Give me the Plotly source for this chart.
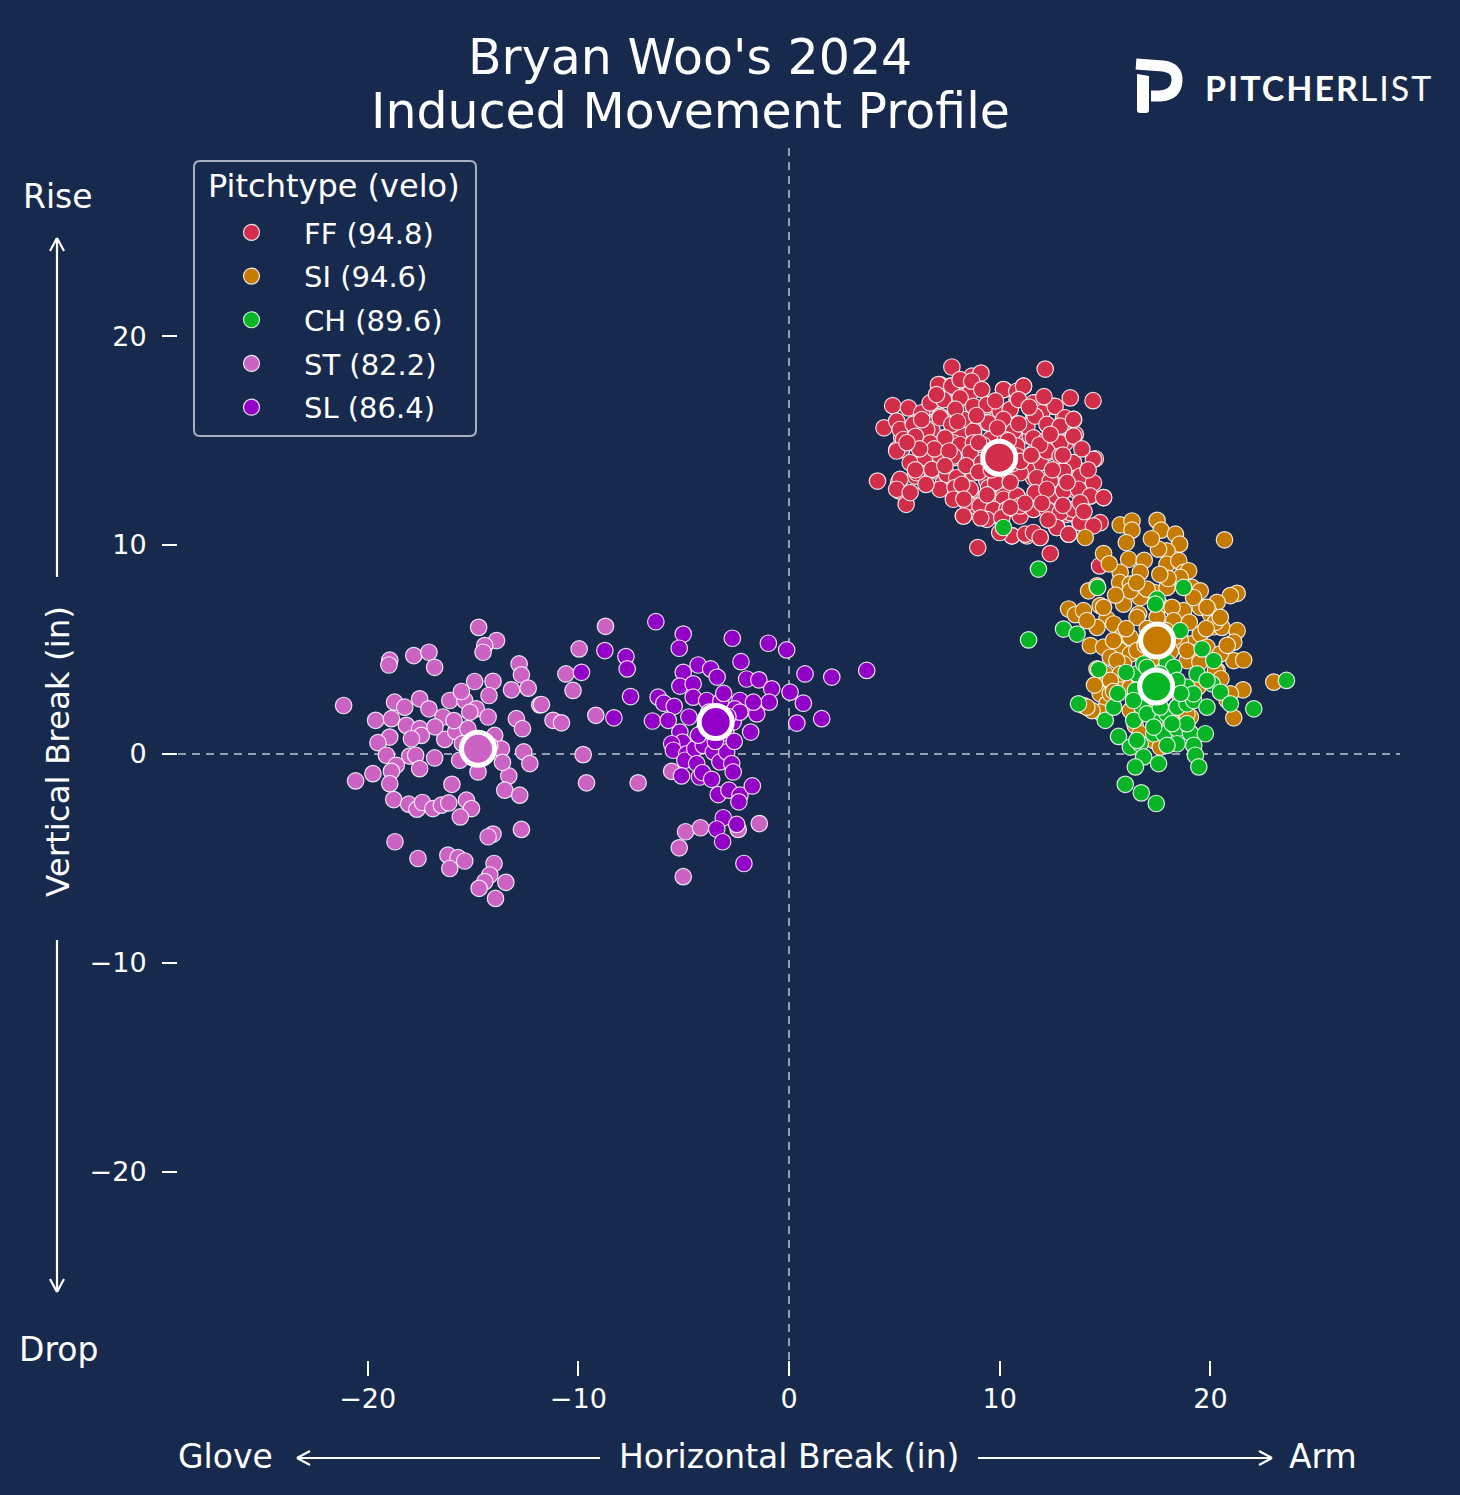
import plotly.graph_objects as go

BG = "#172A4E"
FONT = "DejaVu Sans"

pitch_types = ["FF", "SI", "CH", "ST", "SL"]
velos = [94.8, 94.6, 89.6, 82.2, 86.4]
colors = ["#D22D49", "#C57A02", "#07B526", "#CC63C4", "#9300C8"]

ff_hb = [7.73, 12.16, 8.68, 9.11, 4.92, 4.51, 14.43, 13.35, 12.56, 14.54, 4.20, 5.20, 5.24, 5.56, 14.77, 8.96, 12.40, 14.74,
         8.28, 10.58, 11.29, 11.92, 13.27, 10.02, 10.97, 5.35, 5.35, 5.12, 6.38, 6.70, 7.17, 7.65, 8.12, 10.18, 10.82, 11.13,
         11.69, 11.61, 13.03, 13.51, 13.59, 13.11, 13.51, 13.82, 14.30, 14.93, 13.74, 13.19, 13.82, 12.72,
         9.39, 9.39, 8.76, 8.12, 7.33, 6.78, 6.46, 5.91, 5.99, 7.81, 7.89, 8.60, 8.84, 9.71, 10.82, 11.69, 11.61, 12.24, 12.87,
         13.35, 12.72, 11.61, 10.82, 10.34, 8.60, 7.17, 7.81, 8.60, 9.71, 10.66, 11.45, 11.92, 11.29, 9.39, 7.81, 7.02, 7.33,
         10.18, 12.56, 13.51,
         7.09, 7.72, 8.12, 8.67, 9.15, 10.18, 10.81, 11.13,
         5.67, 6.30, 6.70, 7.33, 8.12, 8.75, 9.39, 10.02, 10.50, 10.89, 11.60, 12.00, 12.63, 13.11,
         5.11, 5.27, 5.90, 6.54, 7.17, 7.72, 8.28, 8.75, 9.47, 10.18, 10.66, 11.29, 11.68, 12.24, 12.87, 13.50,
         5.43, 5.98, 6.70, 7.41, 8.12, 8.75, 9.55, 10.26, 10.81, 11.60, 12.16, 12.87, 13.50,
         5.11, 5.75, 6.46, 7.17, 7.80, 8.60, 9.15, 10.81, 11.60, 12.24, 12.87, 13.50, 14.45,
         5.27, 6.06, 6.78, 7.49, 7.96, 8.75, 9.39, 10.97, 11.76, 12.40, 13.03, 13.82, 14.45,
         5.11, 5.75, 7.17, 7.88, 8.60, 9.47, 10.18, 10.81, 11.68, 12.24, 13.03, 13.74, 14.30, 14.93,
         7.80, 8.44, 9.07, 9.70, 10.34, 10.97, 11.60, 12.24, 12.87, 13.50, 13.82,
         8.28, 9.39, 10.10, 10.58, 11.21, 11.60, 11.92, 12.71, 13.27, 13.82, 14.45,
         9.9, 10.3, 9.5, 10.6, 9.2, 10.0,
         6.0, 6.9, 7.6, 8.4, 9.0, 9.8, 10.5, 11.0, 11.9, 12.5, 13.2, 12.0, 11.2, 10.5, 9.4, 8.2, 7.4, 6.5, 6.3, 7.9,
         8.9, 9.9, 10.9, 12.4, 13.0, 13.9, 14.2, 6.2, 5.6, 8.0, 9.0, 11.4, 12.1, 9.8, 8.3, 9.1, 10.0, 12.3, 13.0, 14.0,
         7.0, 6.0, 10.4, 11.5, 9.6]
ff_ivb = [18.52, 18.42, 18.08, 18.23, 16.67, 15.61, 16.91, 17.04, 16.64, 14.13, 13.06, 12.98, 12.59, 11.95, 11.07, 9.88, 9.59, 9.00,
          11.39, 10.44, 10.44, 10.36, 10.52, 11.31, 11.39, 15.13, 14.57, 14.57, 16.32, 16.64, 17.68, 17.60, 17.12, 17.44, 16.96, 17.60,
          16.80, 16.24, 16.09, 16.01, 15.29, 14.89, 13.94, 12.83, 12.35, 12.27, 11.71, 11.47, 11.07, 10.84,
          16.64, 15.85, 15.37, 15.37, 15.13, 15.53, 14.18, 13.86, 13.30, 14.18, 13.14, 12.51, 11.87, 11.87, 12.35, 12.51, 13.22, 14.42, 12.59,
          11.55, 11.55, 11.71, 15.37, 16.40, 17.28, 16.16, 14.89, 14.73, 15.21, 14.57, 15.21, 13.94, 13.62, 13.14, 12.35, 13.54, 12.98,
          12.35, 12.35, 12.67,
          17.68, 17.60, 17.92, 17.84, 17.44, 17.44, 17.36, 17.60,
          16.56, 16.33, 16.80, 16.96, 17.04, 16.64, 16.72, 16.41, 16.49, 16.96, 16.80, 16.33, 16.64, 16.09,
          15.93, 15.53, 15.77, 15.53, 16.09, 15.77, 16.01, 15.45, 15.85, 16.01, 15.45, 15.69, 16.17, 15.77, 15.69, 16.01,
          15.05, 14.97, 14.89, 15.13, 14.81, 14.89, 15.05, 15.05, 14.74, 15.13, 14.97, 14.89, 15.21,
          14.50, 13.94, 14.18, 14.26, 14.26, 14.42, 13.94, 14.26, 14.42, 14.50, 14.26, 13.94, 14.10,
          13.14, 13.46, 13.62, 13.38, 13.22, 13.46, 13.06, 13.46, 13.22, 13.06, 13.54, 13.30, 12.98,
          12.67, 12.51, 12.67, 12.75, 12.67, 12.75, 12.19, 12.35, 12.51, 12.67, 12.59, 12.67, 12.35, 12.27,
          12.19, 12.03, 11.87, 11.71, 11.71, 11.87, 11.71, 11.71, 11.55, 11.71, 12.03,
          11.39, 11.23, 11.31, 10.44, 10.52, 10.60, 10.36, 10.84, 10.52, 11.07, 10.92,
          14.5, 13.8, 14.0, 13.9, 14.8, 13.4,
          15.2, 14.6, 14.5, 13.8, 13.5, 13.0, 13.0, 14.0, 14.8, 13.6, 13.0, 12.0, 12.0, 11.8, 12.4, 12.9, 13.8, 12.9, 16.0, 16.5,
          16.2, 15.6, 15.8, 15.3, 14.3, 14.6, 13.6, 14.6, 14.9, 15.9, 14.9, 16.6, 17.1, 16.9, 12.2, 11.3, 10.6, 11.2, 11.9, 11.6,
          17.2, 13.6, 15.0, 14.3, 13.6]

si_hb = [20.67, 14.06, 15.72, 16.28, 16.28, 17.47, 17.66, 18.34, 18.54, 17.94, 17.54, 14.93, 16.01, 16.12, 16.86, 16.67, 15.72,
         17.94, 18.50, 18.73, 18.97, 19.13, 19.52, 21.27, 20.95, 20.32, 14.22, 14.62, 15.69, 16.20, 17.31, 13.27, 13.59, 13.98,
         14.77, 15.09, 15.88, 16.60, 17.62, 18.26, 18.73, 19.52, 20.00, 20.16, 20.55, 21.27, 21.11, 21.11, 21.58, 21.55, 21.11,
         20.79, 20.32, 20.13, 23.01, 14.62, 14.30, 14.93, 14.62, 15.01, 15.09, 14.77, 15.09, 14.77, 14.38, 13.98, 15.41, 15.88,
         15.72, 16.20, 15.88, 15.72, 15.25, 16.67, 18.18, 19.05, 19.05, 20.24, 18.90, 19.52, 20.24, 16.52, 17.47, 18.26, 16.20,
         16.43, 16.67, 19.05, 18.57, 18.10, 17.31, 17.62,
         16.20, 16.99, 17.94, 18.57, 19.20, 19.84, 20.47, 14.93, 14.14, 15.40, 15.56, 16.20, 16.51, 18.57, 18.89, 19.84, 20.47,
         15.72, 15.25, 15.25, 14.14, 16.20, 17.62, 18.41, 18.89, 18.57, 20.95,
         17.0, 17.9, 16.9, 18.1, 17.3, 16.5,
         15.2, 17.2, 18.0, 15.5, 17.6, 19.0, 19.8, 20.8, 16.0, 17.0, 18.3, 19.5, 15.4, 16.6, 18.0, 19.4, 20.5, 14.5, 16.9, 17.7]
si_ivb = [10.25, 10.36, 10.96, 11.15, 10.71, 11.18, 10.71, 10.52, 10.04, 9.72, 9.80, 9.59, 10.12, 9.32, 9.27, 8.69, 8.69,
          9.08, 9.25, 8.69, 8.77, 7.97, 7.81, 7.69, 7.58, 7.26, 7.81, 8.05, 8.21, 8.13, 7.73, 6.94, 6.67, 6.86,
          7.10, 6.46, 7.17, 6.70, 7.10, 6.94, 6.86, 7.02, 6.70, 6.09, 6.06, 5.90, 5.35, 4.47, 4.50, 3.07, 1.73,
          2.59, 3.99, 4.55, 3.44, 6.06, 5.19, 5.11, 4.07, 3.83, 3.44, 2.88, 2.40, 2.00, 2.08, 2.32, 6.22, 5.74,
          4.95, 4.79, 4.31, 3.52, 4.63, 7.49, 7.02, 5.27, 4.87, 3.99, 4.47, 5.74, 6.30, 6.54, 6.54, 6.38, 2.08,
          1.37, 0.97, 1.77, 2.08, 1.85, 0.65, 0.33,
          7.81, 7.89, 7.97, 8.45, 7.49, 7.02, 6.54, 7.02, 6.38, 5.43, 4.47, 5.58, 4.95, 5.43, 4.95, 5.11, 4.79,
          3.83, 3.52, 2.88, 2.24, 3.20, 2.88, 2.24, 1.92, 2.72, 2.88,
          6.0, 5.9, 5.2, 4.9, 4.6, 8.2,
          9.1, 10.3, 8.4, 7.6, 8.6, 6.3, 6.0, 5.2, 6.0, 5.5, 5.6, 4.4, 3.0, 3.7, 3.5, 3.2, 3.6, 3.3, 2.3, 1.5]

ch_hb = [11.84, 11.37, 14.65, 13.03, 13.67, 18.73, 17.47, 17.39, 18.57, 19.61, 20.16, 14.70, 16.52, 16.84, 17.94, 18.26, 19.37,
         20.08, 20.48, 20.95, 22.06, 23.61, 13.74, 15.01, 15.41, 16.44, 16.76, 16.36, 17.47, 17.94, 18.42, 18.89, 19.21, 19.84,
         18.89, 18.42, 15.64, 16.20, 16.67, 17.31, 17.79, 18.42, 19.05, 19.76, 18.42, 19.21, 17.94, 16.83, 17.54, 16.44, 19.29,
         19.45, 15.96, 16.72, 17.43, 10.18, 16.99, 17.62, 16.35, 16.99, 17.62, 19.20, 19.84, 18.89, 16.51, 17.31, 18.18,
         16.0, 15.6, 17.9, 18.6]
ch_ivb = [8.85, 5.46, 7.97, 5.98, 5.74, 7.97, 7.42, 7.17, 5.90, 5.03, 4.47, 4.04, 3.83, 4.31, 4.39, 4.15, 3.83,
          3.36, 2.96, 2.40, 2.16, 3.52, 2.40, 1.61, 2.24, 3.04, 2.24, 1.61, 1.77, 1.92, 2.24, 2.40, 2.56, 2.24,
          3.20, 3.52, 0.84, 0.33, 0.49, 0.97, 0.97, 1.21, 1.00, 0.97, 0.49, 0.41, 0.41, -0.14, -0.46, -0.62, -0.06,
          -0.62, -1.45, -1.86, -2.37, 10.84, 4.15, 3.83, 2.56, 1.92, 2.24, 2.88, 3.52, 1.45, 0.65, 1.29, 1.45,
          3.9, 2.9, 3.1, 2.9]

st_hb = [-14.73, -13.88, -14.44, -14.52, -18.95, -18.99, -17.81, -17.09, -16.82, -12.81, -12.70, -12.38, -13.17, -11.83, -21.14,
         -14.92, -14.05, -14.24, -16.10, -15.39, -15.55, -14.84, -15.15, -17.53, -18.72, -18.24, -17.09, -16.42, -14.28, -19.62,
         -18.87, -18.16, -17.53, -17.45, -17.92, -18.95, -19.51, -16.34, -15.82, -15.24, -13.97, -13.65, -12.94, -12.65, -12.59,
         -12.30, -19.11, -18.00, -17.72, -16.82, -17.53, -15.63, -14.76, -18.64, -18.87, -19.75, -20.57, -18.95, -16.00, -13.30,
         -13.49, -12.78, -18.76, -18.05, -17.66, -17.40, -16.90, -16.50, -16.15, -15.31, -15.07, -15.60, -12.70, -14.05, -14.28,
         -18.70, -17.61, -16.19, -15.71, -15.39, -16.10, -14.00, -14.20, -13.44, -14.44, -14.71, -13.93,
         -8.71, -9.96, -10.59, -10.25, -11.75, -11.20, -10.80, -9.17, -9.77, -5.57, -9.61, -7.16, -4.91, -4.20, -5.21, -2.41,
         -1.41, -5.02,
         -15.5, -14.2, -15.9, -16.8, -13.6]
st_ivb = [6.06, 5.43, 5.19, 4.87, 4.49, 4.26, 4.71, 4.87, 4.15, 4.31, 3.79, 3.15, 3.07, 2.35, 2.32,
          3.47, 3.48, 2.80, 2.56, 2.56, 2.99, 2.16, 2.00, 2.64, 2.48, 2.24, 2.16, 1.77, 1.77, 1.61,
          1.69, 1.37, 1.21, 0.89, 0.73, 0.81, 0.54, 0.70, 1.08, 1.21, 0.89, 0.25, 1.69, 1.21, 0.10,
          -0.46, -0.06, -0.10, -0.06, -0.19, -0.70, -0.30, -0.86, -0.54, -0.83, -0.94, -1.29, -1.42, -1.45, -1.05,
          -1.73, -1.97, -2.18, -2.40, -2.64, -2.32, -2.61, -2.45, -2.34, -2.21, -2.61, -3.01, -3.61, -3.83, -3.96,
          -4.20, -5.00, -4.84, -4.96, -5.12, -5.48, -5.24, -5.79, -6.14, -6.11, -6.43, -6.91,
          6.11, 5.03, 3.83, 3.04, 2.37, 1.61, 1.49, 1.85, -0.03, -0.83, -1.38, -1.38, -3.72, -3.53, -4.49, -3.61,
          -3.33, -5.87,
          0.5, 0.4, 1.6, 1.3, -0.4]

sl_hb = [-6.32, -5.02, -5.21, -8.74, -7.74, -7.68, -9.85, -7.52, -8.31, -2.69, -0.98, -0.11, -2.28, 0.76, 2.03, 3.69, 0.05,
         0.68, 1.55, 0.37, -2.01, -1.43, -0.82, -0.94, -1.53, -1.82, -2.33, -1.69, -2.57, -5.02, -4.31, -3.72, -3.41, -5.18,
         -4.55, -4.55, -6.21, -5.94, -5.45, -6.48, -5.73, -4.75, -3.91, -3.24, -2.65, -2.33, -5.18, -5.05, -5.57, -5.49, -4.86,
         -4.94, -4.47, -4.07, -4.38, -3.59, -3.28, -2.96, -2.72, -2.65, -5.10, -4.25, -4.11, -3.67, -3.36, -2.85, -2.33, -2.38,
         -1.74, -3.12, -2.48, -3.43, -3.15, -2.14,
         -4.0, -3.0, -3.8, -2.9, -4.3, -3.5, -2.6, -3.1]
sl_ivb = [6.33, 5.74, 5.06, 4.95, 4.66, 4.07, 3.91, 2.75, 1.73, 5.54, 5.30, 4.98, 4.42, 3.83, 3.68, 4.00, 2.96,
          2.43, 1.69, 1.48, 3.59, 3.55, 3.12, 2.48, 1.92, 1.05, 2.56, 2.48, 2.16, 3.91, 4.26, 4.07, 3.68, 3.25,
          3.36, 2.72, 2.72, 2.43, 2.28, 1.58, 1.61, 1.77, 2.56, 2.52, 1.53, 2.00, 1.05, 0.57, 0.49, 0.18, 0.01,
          -0.30, 0.25, 0.41, -0.46, 0.10, -0.38, 0.10, -0.46, -0.86, -1.05, -1.10, -0.89, -1.21, -1.94, -1.73, -1.97, -2.29,
          -1.53, -3.05, -3.37, -3.59, -4.20, -5.24,
          1.2, 1.0, 2.0, 1.8, 0.9, 0.6, 0.6, 2.9]

mean_hb = [9.98, 17.47, 17.43, -14.76, -3.48]
mean_ivb = [14.18, 5.43, 3.23, 0.25, 1.53]

series_hb = [ff_hb, si_hb, ch_hb, st_hb, sl_hb]
series_ivb = [ff_ivb, si_ivb, ch_ivb, st_ivb, sl_ivb]

# plot area in pixels: x 178..1400, y 148..1360
L, R, T, B = 178, 1400, 148, 1360
def px(x):
    return (x - L) / (R - L)
def py(y):
    return (B - y) / (B - T)

fig = go.Figure()
for i, pt in enumerate(pitch_types):
    fig.add_trace(go.Scatter(
        x=series_hb[i], y=series_ivb[i], mode="markers",
        name=f"{pt} ({velos[i]})", legendgroup=pt,
        marker=dict(size=16.5, color=colors[i], line=dict(color="rgba(255,255,255,0.85)", width=1.2)),
        hoverinfo="x+y",
    ))
for i, pt in enumerate(pitch_types):
    fig.add_trace(go.Scatter(
        x=[mean_hb[i]], y=[mean_ivb[i]], mode="markers", showlegend=False, legendgroup=pt,
        marker=dict(size=33, color=colors[i], line=dict(color="white", width=5)),
    ))

shapes = []
dash_col = "rgba(190,198,212,0.75)"
shapes.append(dict(type="line", xref="x", yref="y", x0=-29, x1=29, y0=0, y1=0,
                   line=dict(color=dash_col, width=2, dash="8px,6px"), layer="below"))
shapes.append(dict(type="line", xref="x", yref="y", x0=0, x1=0, y0=-29, y1=29,
                   line=dict(color=dash_col, width=2, dash="8px,6px"), layer="below"))

def seg(x0, y0, x1, y1, w=2.2):
    shapes.append(dict(type="line", xref="paper", yref="paper", x0=px(x0), y0=py(y0), x1=px(x1), y1=py(y1),
                       line=dict(color="white", width=w)))

# vertical arrows
seg(57, 577, 57, 238); seg(50, 251, 57, 238); seg(64, 251, 57, 238)
seg(57, 940, 57, 1292); seg(50, 1279, 57, 1292); seg(64, 1279, 57, 1292)
# horizontal arrows
seg(600, 1458, 297, 1458); seg(310, 1451, 297, 1458); seg(310, 1465, 297, 1458)
seg(978, 1458, 1272, 1458); seg(1259, 1451, 1272, 1458); seg(1259, 1465, 1272, 1458)

# legend frame (rounded)
lx0, ly0, lx1, ly1, rr = 194, 161, 476, 436, 6
shapes.append(dict(type="path", xref="paper", yref="paper", layer="above",
                   path=(f"M {px(lx0+rr)},{py(ly0)} L {px(lx1-rr)},{py(ly0)} Q {px(lx1)},{py(ly0)} {px(lx1)},{py(ly0+rr)} "
                         f"L {px(lx1)},{py(ly1-rr)} Q {px(lx1)},{py(ly1)} {px(lx1-rr)},{py(ly1)} "
                         f"L {px(lx0+rr)},{py(ly1)} Q {px(lx0)},{py(ly1)} {px(lx0)},{py(ly1-rr)} "
                         f"L {px(lx0)},{py(ly0+rr)} Q {px(lx0)},{py(ly0)} {px(lx0+rr)},{py(ly0)} Z"),
                   line=dict(color="rgba(205,210,220,0.8)", width=2)))

# logo icon "P"
shapes.append(dict(type="path", xref="paper", yref="paper",
                   path=f"M {px(1137)},{py(74)} L {px(1149)},{py(76)} L {px(1149)},{py(110)} Q {px(1149)},{py(113)} {px(1146)},{py(113)} L {px(1140)},{py(113)} Q {px(1137)},{py(113)} {px(1137)},{py(110)} Z",
                   fillcolor="white", line=dict(width=0)))
shapes.append(dict(type="path", xref="paper", yref="paper",
                   path=f"M {px(1136)},{py(64)} L {px(1163)},{py(66)} Q {px(1178)},{py(68)} {px(1177)},{py(81)} Q {px(1176)},{py(95)} {px(1160)},{py(96)} L {px(1151)},{py(96)}",
                   line=dict(color="white", width=11)))

ann = []
def text(x, y, s, size, angle=0, xanchor="center", family=FONT):
    ann.append(dict(text=s, x=px(x), y=py(y), xref="paper", yref="paper", showarrow=False,
                    xanchor=xanchor, yanchor="middle", textangle=angle,
                    font=dict(family=family, size=size, color="white")))

text(690, 57, "Bryan Woo's 2024", 49)
text(690, 111, "Induced Movement Profile", 49)
text(58, 197, "Rise", 33)
text(58, 1349, "Drop", 33)
text(58, 752, "Vertical Break (in)", 32.5, angle=-90)
text(225, 1456, "Glove", 33)
text(789, 1456, "Horizontal Break (in)", 33)
text(1323, 1456, "Arm", 33)
text(334, 186, "Pitchtype (velo)", 32)
text(1203, 88, '<span style="letter-spacing:2px"><b>PITCHER</b>LIST</span>', 34, xanchor="left", family="Lato")

fig.update_layout(
    width=1460, height=1495,
    margin=dict(l=L, r=1460 - R, t=T, b=1495 - B),
    paper_bgcolor=BG, plot_bgcolor=BG,
    font=dict(family=FONT, color="white"),
    showlegend=True,
    legend=dict(x=px(199), y=py(207), xanchor="left", yanchor="top",
                bgcolor="rgba(0,0,0,0)", borderwidth=0,
                font=dict(family=FONT, size=29, color="white"),
                itemwidth=95, traceorder="grouped", tracegroupgap=3),
    shapes=shapes, annotations=ann,
)
axis_common = dict(range=[-29, 29], showgrid=False, zeroline=False, showline=False,
                   ticks="outside", ticklen=15, tickwidth=2, tickcolor="white",
                   tickvals=[-20, -10, 0, 10, 20],
                   tickfont=dict(family=FONT, size=27, color="white"))
fig.update_xaxes(**axis_common, ticklabelstandoff=0)
fig.update_yaxes(**axis_common, ticklabelstandoff=10)

fig.write_html("out.html")
